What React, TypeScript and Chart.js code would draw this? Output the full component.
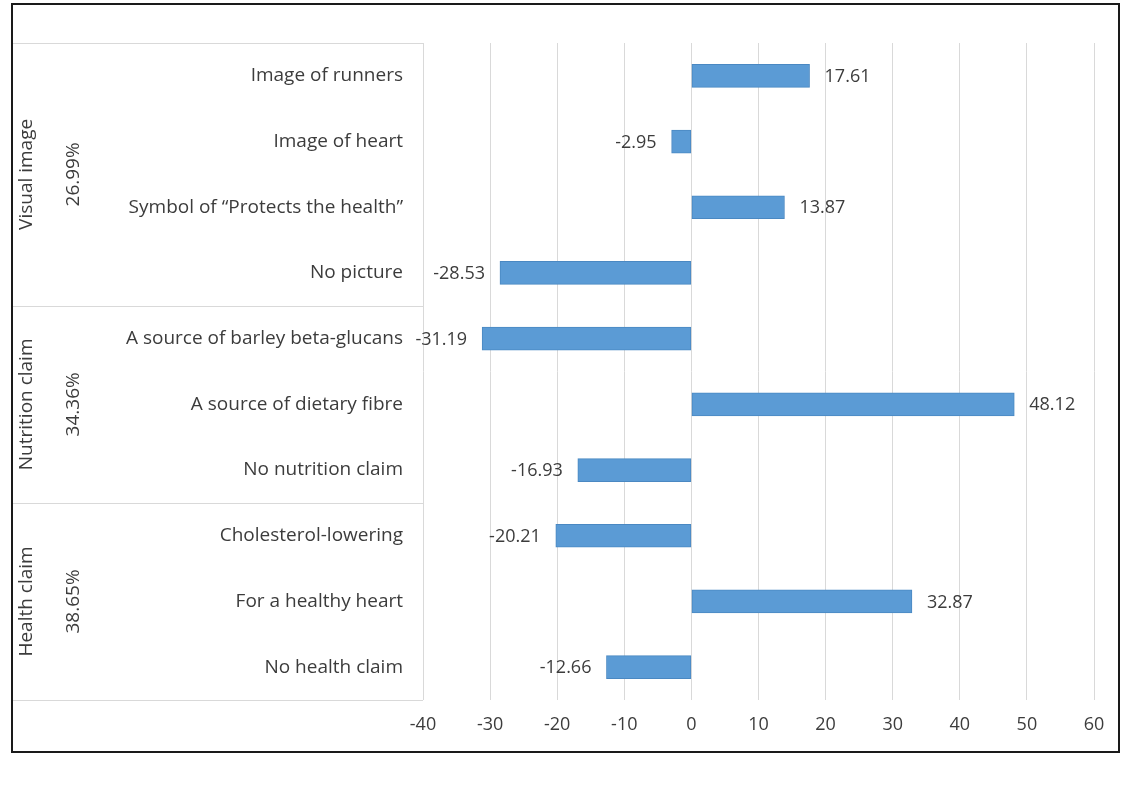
import React, { useEffect, useRef } from "react";
import { Chart, registerables } from "chart.js";

Chart.register(...registerables);

const categories = [
  "Image of runners",
  "Image of heart",
  "Symbol of “Protects the health”",
  "No picture",
  "A source of barley beta-glucans",
  "A source of dietary fibre",
  "No nutrition claim",
  "Cholesterol-lowering",
  "For a healthy heart",
  "No health claim",
];
const values = [17.61, -2.95, 13.87, -28.53, -31.19, 48.12, -16.93, -20.21, 32.87, -12.66];
const groupNames = ["Visual image", "Nutrition claim", "Health claim"];
const groupShares = ["26.99%", "34.36%", "38.65%"];
const groupSizes = [4, 3, 3];
const xMin = -40;
const xMax = 60;
const xStep = 10;

const FONT = "'Open Sans'";
const LABEL_SIZE = 19;
const NUM_SIZE = 18;
const TEXT = "#3c3c3c";

const decorPlugin = {
  id: "decor",
  afterDraw(chart: any) {
    const { ctx, chartArea, scales } = chart;
    const y = scales.y;
    ctx.save();
    // table lines on the left
    ctx.strokeStyle = "#d9d9d9";
    ctx.lineWidth = 1;
    const bounds: number[] = [chartArea.top];
    let acc = 0;
    groupSizes.forEach((n) => {
      acc += n;
      bounds.push(y.getPixelForValue(acc - 0.5));
    });
    bounds.forEach((b) => {
      const yy = Math.round(b) + 0.5;
      ctx.beginPath();
      ctx.moveTo(12, yy);
      ctx.lineTo(chartArea.left, yy);
      ctx.stroke();
    });
    // group labels
    ctx.fillStyle = TEXT;
    ctx.font = `${LABEL_SIZE}px ${FONT}`;
    ctx.textAlign = "center";
    ctx.textBaseline = "middle";
    for (let g = 0; g < groupSizes.length; g++) {
      const cy = (bounds[g] + bounds[g + 1]) / 2;
      ctx.save();
      ctx.translate(27, cy);
      ctx.rotate(-Math.PI / 2);
      ctx.fillText(groupNames[g], 0, 0);
      ctx.restore();
      ctx.save();
      ctx.translate(74, cy);
      ctx.rotate(-Math.PI / 2);
      ctx.fillText(groupShares[g], 0, 0);
      ctx.restore();
    }
    // data labels
    ctx.font = `${NUM_SIZE}px ${FONT}`;
    const meta = chart.getDatasetMeta(0);
    meta.data.forEach((bar: any, i: number) => {
      const v = values[i];
      const txt = v.toFixed(2);
      if (v >= 0) {
        ctx.textAlign = "left";
        ctx.fillText(txt, bar.x + 15, bar.y + 1);
      } else {
        ctx.textAlign = "right";
        ctx.fillText(txt, bar.x - 15, bar.y + 1);
      }
    });
    // outer border
    ctx.strokeStyle = "#1a1a1a";
    ctx.lineWidth = 2;
    ctx.strokeRect(12, 4, 1107, 748);
    ctx.restore();
  },
};

export default function App() {
  const ref = useRef<HTMLCanvasElement | null>(null);
  useEffect(() => {
    if (!ref.current) return;
    const chart = new Chart(ref.current, {
      type: "bar",
      data: {
        labels: categories,
        datasets: [
          {
            data: values,
            backgroundColor: "#5b9bd5",
            borderColor: "#4a88c2",
            borderWidth: 1,
            borderSkipped: false,
            barThickness: 23,
          },
        ],
      },
      options: {
        indexAxis: "y",
        animation: false,
        responsive: false,
        devicePixelRatio: 1,
        layout: { padding: { left: 12, right: 42, top: 43, bottom: 38 } },
        plugins: { legend: { display: false }, tooltip: { enabled: false } },
        scales: {
          x: {
            type: "linear",
            min: xMin,
            max: xMax,
            ticks: {
              stepSize: xStep,
              padding: 14,
              color: TEXT,
              font: { family: FONT, size: NUM_SIZE },
            },
            grid: { color: "#d9d9d9", drawTicks: false },
            border: { display: false },
            afterFit(scale: any) {
              scale.height = 50;
            },
          },
          y: {
            type: "category",
            ticks: {
              padding: 20,
              color: TEXT,
              font: { family: FONT, size: LABEL_SIZE },
            },
            grid: { display: false, drawTicks: false },
            border: { display: false },
            afterFit(scale: any) {
              scale.width = 411;
            },
          },
        },
      },
      plugins: [decorPlugin],
    } as any);
    return () => chart.destroy();
  }, []);
  return (
    <canvas
      ref={ref}
      width={1136}
      height={788}
      style={{ position: "fixed", left: 0, top: 0, width: 1136, height: 788, display: "block", background: "#fff" }}
    />
  );
}
